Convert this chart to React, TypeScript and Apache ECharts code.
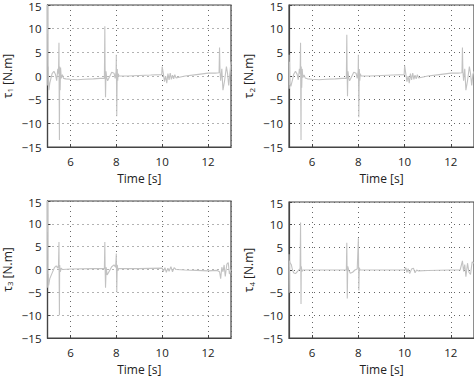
import React, { useEffect, useRef } from "react";
import * as echarts from "echarts";

const yNames = ["1", "2", "3", "4"];
const xName = "Time [s]";

const tau1: [number, number][] = [
  [5.0, 15], [5.01, -2], [5.03, 2], [5.06, -3], [5.1, -1.5], [5.15, -0.5], [5.2, 0.5], [5.28, 1], [5.35, 0.3], [5.4, -1],
  [5.45, 1.5], [5.48, 0.5], [5.5, 7], [5.51, -5], [5.52, -13.5], [5.53, 2], [5.55, -3], [5.57, 1.8], [5.6, -0.5], [5.65, 0.3],
  [5.7, -0.5], [5.8, -0.6], [6.0, -0.7], [6.3, -0.8], [6.6, -0.7], [7.0, -0.6], [7.3, -0.5], [7.48, -0.5], [7.5, 10.5], [7.51, 2],
  [7.53, -4.5], [7.55, 1], [7.58, -0.3], [7.62, -1], [7.7, -0.2], [7.8, 0.8], [7.9, 0.6], [7.95, -0.5], [7.99, 1], [8.0, 4.5],
  [8.01, -2], [8.02, -8.5], [8.04, 1.5], [8.06, -1], [8.08, 0.5], [8.12, 0], [8.5, 0], [9.0, 0.1], [9.5, 0.2], [9.98, 0.3],
  [10.0, 2], [10.05, 0.5], [10.1, -1.2], [10.15, 0], [10.2, -1.5], [10.25, 0.5], [10.3, -0.8], [10.35, 0.6], [10.4, -0.7], [10.45, 0.2],
  [10.5, -0.6], [10.55, 0.3], [10.6, -0.4], [10.7, -0.3], [11.0, 0], [11.5, 0.3], [12.0, 0.6], [12.3, 0.6], [12.48, 0.7], [12.5, 6],
  [12.52, 1], [12.55, -1], [12.6, 1.5], [12.65, -3], [12.72, -1], [12.8, 2], [12.85, 0.5], [12.9, -2], [12.95, 0.5], [13.0, 3],
];

const tau2: [number, number][] = [
  [5.0, 4.5], [5.01, -2.7], [5.02, 3], [5.04, -1.5], [5.08, -2.2], [5.15, -0.8], [5.2, 0.3], [5.28, 1], [5.35, 0.4], [5.4, -0.8],
  [5.45, 1.5], [5.48, 0.5], [5.5, 7], [5.51, -5], [5.52, -13.5], [5.53, 2], [5.55, -2.5], [5.57, 1.5], [5.6, -0.3], [5.65, 0.2],
  [5.7, -0.4], [5.8, -0.6], [6.0, -0.7], [6.3, -0.8], [6.6, -0.7], [7.0, -0.6], [7.3, -0.5], [7.48, -0.5], [7.5, 8.7], [7.51, 2],
  [7.53, -4.3], [7.55, 1], [7.58, -0.3], [7.62, -1], [7.7, -0.2], [7.8, 0.8], [7.9, 0.6], [7.95, -0.5], [7.99, 1], [8.0, 4.5],
  [8.01, -2], [8.02, -8.7], [8.04, 1.5], [8.06, -1], [8.08, 0.5], [8.12, 0], [8.5, 0], [9.0, 0.1], [9.5, 0.2], [9.98, 0.3],
  [10.0, 2.2], [10.05, 0.5], [10.1, -1.2], [10.15, 0], [10.2, -1.5], [10.25, 0.5], [10.3, -0.8], [10.35, 0.6], [10.4, -0.7], [10.45, 0.2],
  [10.5, -0.6], [10.55, 0.3], [10.6, -0.4], [10.7, -0.3], [11.0, 0], [11.5, 0.3], [12.0, 0.6], [12.3, 0.6], [12.48, 0.7], [12.5, 6],
  [12.52, 1], [12.55, -1], [12.6, 1.5], [12.65, -3], [12.72, -1], [12.8, 2], [12.85, 0.5], [12.9, -2], [12.95, 0.3], [13.0, 1],
];

const tau3: [number, number][] = [
  [5.0, 15], [5.01, -4], [5.03, -1], [5.05, -3.5], [5.1, -2], [5.2, -0.8], [5.3, 0.4], [5.38, 0.8], [5.45, 0.3], [5.48, 1],
  [5.5, 6], [5.51, -3], [5.52, -10], [5.53, 1], [5.56, -0.5], [5.6, 0.3], [5.65, 0], [6.0, 0.1], [7.0, 0.2], [7.48, 0.2],
  [7.5, 6], [7.51, 1], [7.53, -4], [7.56, 0.5], [7.6, -1.2], [7.7, -0.3], [7.8, 0.6], [7.9, 1], [7.97, 0.5], [8.0, 3.5],
  [8.01, -1], [8.02, -5], [8.04, 1], [8.07, -0.3], [8.1, 0.2], [9.0, 0.2], [10.0, 0.3], [10.05, -0.5], [10.12, 0.4], [10.18, -0.6],
  [10.25, 0.3], [10.3, -0.4], [10.38, 0.6], [10.45, -0.5], [10.52, 0.4], [10.6, 0], [11.0, -0.1], [11.5, -0.2], [12.0, -0.3], [12.4, -0.2],
  [12.5, -0.5], [12.55, -2], [12.6, 0.5], [12.65, -0.5], [12.7, 1], [12.75, -1.5], [12.82, 1.2], [12.88, 1.5], [12.93, -1], [13.0, 0],
];

const tau4: [number, number][] = [
  [5.0, 3.5], [5.01, -5], [5.02, 2], [5.05, 1.5], [5.1, 1.2], [5.15, 0], [5.2, -0.6], [5.28, -0.8], [5.35, -0.4], [5.42, 0],
  [5.48, 0.3], [5.5, 10.5], [5.51, 1], [5.52, -7.5], [5.53, 0.8], [5.56, -0.3], [5.6, 0], [6.0, 0], [7.0, 0], [7.48, 0],
  [7.5, 6], [7.51, 0.5], [7.52, -6.3], [7.54, 0.8], [7.58, 0], [7.65, -0.7], [7.75, -0.5], [7.85, 0], [7.95, 0.2], [8.0, 7],
  [8.01, 0.5], [8.02, -4.5], [8.04, 0.5], [8.07, 0], [9.0, 0], [10.0, 0], [10.05, 0.5], [10.1, -0.5], [10.15, 0.3], [10.22, -0.8],
  [10.3, 0.2], [10.38, 0.4], [10.45, -0.6], [10.52, 0], [10.6, -0.2], [11.0, -0.1], [12.0, 0], [12.4, 0], [12.5, 2], [12.55, -0.3],
  [12.6, 1.2], [12.65, -1.5], [12.72, 1.5], [12.78, -0.5], [12.85, -1], [12.92, 1.8], [13.0, 1.5],
];

const seriesData = [tau1, tau2, tau3, tau4];

const grids = [
  { left: 44, top: 5, width: 187, height: 142 },
  { left: 289, top: 5, width: 185, height: 142 },
  { left: 44, top: 201, width: 187, height: 141 },
  { left: 289, top: 202, width: 185, height: 141 },
];

const FONT = "Open Sans";
const minus = (v: number) => String(v).replace("-", "\u2212");
const yLabel = (v: number) => (v === 15 ? `{m|${v}}` : minus(v));

export default function App() {
  const ref = useRef<HTMLDivElement>(null);
  useEffect(() => {
    if (!ref.current) return;
    const chart = echarts.init(ref.current, null, { renderer: "svg" });
    const axisLine = { show: true, onZero: false, lineStyle: { color: "#444", width: 1.2 } };
    const splitLine = { show: true, lineStyle: { color: "#666", type: [1, 4] as any, width: 1 } };
    chart.setOption({
      animation: false,
      backgroundColor: "#fff",
      grid: grids.map((g) => ({ ...g, show: true, borderColor: "#444", borderWidth: 1.2, backgroundColor: "transparent" })),
      xAxis: grids.map((_, i) => ({
        type: "value",
        gridIndex: i,
        min: 5,
        max: 13,
        splitNumber: 4,
        name: xName,
        nameLocation: "middle",
        nameGap: 25,
        nameTextStyle: { fontFamily: FONT, fontSize: 12, color: "#222" },
        axisLine,
        axisTick: { show: true, inside: true, length: 3, lineStyle: { color: "#444" } },
        axisLabel: { showMinLabel: false, showMaxLabel: false, fontFamily: FONT, fontSize: 11.5, color: "#222", margin: 8, formatter: minus },
        splitLine,
      })),
      yAxis: grids.map((_, i) => ({
        type: "value",
        gridIndex: i,
        min: -15,
        max: 15,
        interval: 5,
        name: `{t|\u03c4}{s|${yNames[i]}}{t| [N.m]}`,
        nameLocation: "middle",
        nameGap: 34,
        nameRotate: 90,
        nameTextStyle: {
          rich: {
            t: { fontFamily: FONT, fontSize: 12, color: "#222" },
            s: { fontFamily: FONT, fontSize: 8, color: "#222", padding: [5, 0, 0, 0] },
          },
        },
        axisLine,
        axisTick: { show: true, inside: true, length: 3, lineStyle: { color: "#444" } },
        axisLabel: {
          fontFamily: FONT,
          fontSize: 11.5,
          color: "#222",
          margin: 6,
          formatter: yLabel,
          rich: { m: { fontFamily: FONT, fontSize: 11.5, color: "#222", padding: [3, 0, 0, 0] } },
        },
        splitLine,
      })),
      series: seriesData.map((d, i) => ({
        type: "line",
        xAxisIndex: i,
        yAxisIndex: i,
        data: d,
        showSymbol: false,
        symbol: "none",
        clip: true,
        lineStyle: { color: "#c2c2c2", width: 1.1 },
      })),
    });
    return () => chart.dispose();
  }, []);
  return <div ref={ref} style={{ position: "absolute", left: 0, top: 0, width: 474, height: 376 }} />;
}
